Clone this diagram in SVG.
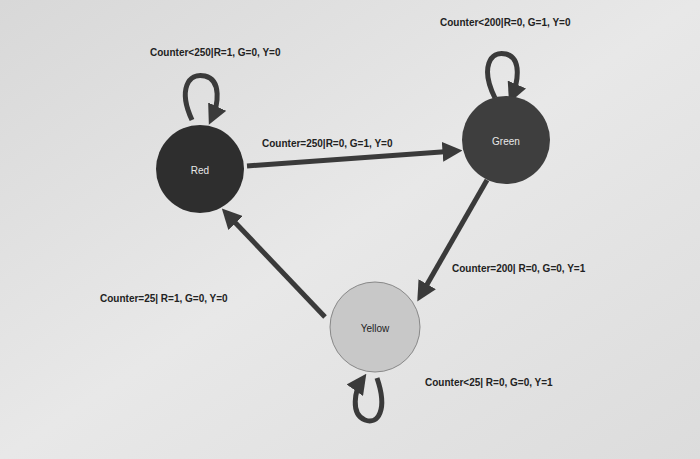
<svg xmlns="http://www.w3.org/2000/svg" width="700" height="459" viewBox="0 0 700 459">
<defs>
<linearGradient id="bg" x1="0" y1="0" x2="1" y2="1"><stop offset="0" stop-color="#d8d8d8"/><stop offset="0.5" stop-color="#e8e8e8"/><stop offset="1" stop-color="#dcdcdc"/></linearGradient>
<marker id="ah" markerWidth="4" markerHeight="4" refX="2.5" refY="2" orient="auto"><path d="M0,0 L4,2 L0,4 Z" fill="#3a3a3a"/></marker>
</defs>
<style>
.lbl{font-family:"Liberation Sans",Arial,sans-serif;font-size:10px;font-weight:bold;fill:#222}
.c{stroke:#3a3a3a;stroke-width:5;fill:none;marker-end:url(#ah)}
.nl{font-family:"Liberation Sans",Arial,sans-serif;font-size:10px;text-anchor:middle}
</style>
<rect width="700" height="459" fill="url(#bg)"/>
<g id="connectors">
<line class="c" x1="247" y1="166" x2="455" y2="151"/>
<line class="c" x1="487" y1="180" x2="421" y2="295"/>
<line class="c" x1="325" y1="317" x2="227" y2="214"/>
<path class="c" d="M192,120 C178,90 188,72 205,76 C222,80 218,105 212,118"/>
<path class="c" d="M495,98 C480,68 490,50 506,54 C522,58 518,82 512,96"/>
<path class="c" d="M377,378 C388,410 378,425 365,420 C350,414 355,390 362,380"/>
</g>
<g id="labels">
<text class="lbl" x="150" y="56">Counter&lt;250|R=1, G=0, Y=0</text>
<text class="lbl" x="440" y="26">Counter&lt;200|R=0, G=1, Y=0</text>
<text class="lbl" x="262" y="147">Counter=250|R=0, G=1, Y=0</text>
<text class="lbl" x="452" y="272">Counter=200| R=0, G=0, Y=1</text>
<text class="lbl" x="100" y="302">Counter=25| R=1, G=0, Y=0</text>
<text class="lbl" x="425" y="386">Counter&lt;25| R=0, G=0, Y=1</text>
</g>
<g id="red"><circle cx="200" cy="169" r="44" fill="#2e2e2e"/><text class="nl" x="200" y="174" fill="#e8e8e8">Red</text></g>
<g id="green"><circle cx="506" cy="140" r="44" fill="#3e3e3e"/><text class="nl" x="506" y="145" fill="#e8e8e8">Green</text></g>
<g id="yellow"><circle cx="375" cy="327" r="45" fill="#c8c8c8" stroke="#888" stroke-width="1"/><text class="nl" x="375" y="332" fill="#222">Yellow</text></g>
</svg>
